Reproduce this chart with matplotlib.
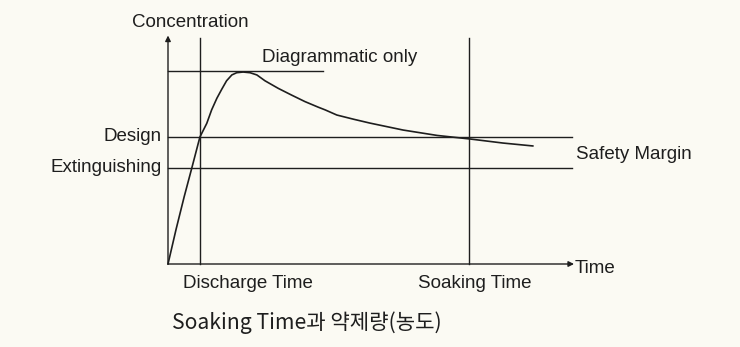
import matplotlib.pyplot as plt

plt.rcParams['font.family'] = ['Liberation Sans', 'DejaVu Sans']

# Diagram data (time and concentration in arbitrary units, 0-100)
curve_time = [0, 2.0, 4.0, 5.9, 7.9, 9.6, 10.8, 12.1, 13.3, 14.5, 15.8, 17.0, 18.6,
              20.3, 22.0, 24.0, 27.3, 30.6, 33.9, 37.2, 38.9, 41.8, 46.0, 50.0,
              58.2, 66.6, 74.8, 82.9, 90.3]
curve_conc = [0, 15.5, 30.0, 42.9, 56.7, 62.8, 68.8, 74.0, 78.0, 81.8, 84.4, 85.4, 85.7,
              85.4, 84.4, 81.8, 78.4, 75.4, 72.5, 70.0, 68.8, 66.5, 64.6, 62.9,
              59.8, 57.4, 55.8, 54.0, 52.7]

design_conc = 56.7
extinguishing_conc = 42.9
peak_conc = 86.0
peak_line_end = 38.4
discharge_time = 7.9
soaking_time = 74.5
marker_top = 100.9

line_color = '#1e1e1e'
bg_color = '#fbfaf3'

fig = plt.figure(figsize=(7.4, 3.47), dpi=100, facecolor=bg_color)
ax = fig.add_axes([168 / 740, 83 / 347, 404 / 740, 224 / 347])
ax.set_xlim(0, 100)
ax.set_ylim(0, 100)
ax.axis('off')

# axes with arrows
ax.annotate('', xy=(0, 102), xytext=(0, 0), annotation_clip=False,
            arrowprops=dict(arrowstyle='-|>', color=line_color, lw=1.0,
                            mutation_scale=8, shrinkA=0, shrinkB=0))
ax.annotate('', xy=(100.5, 0), xytext=(0, 0), annotation_clip=False,
            arrowprops=dict(arrowstyle='-|>', color=line_color, lw=1.0,
                            mutation_scale=8, shrinkA=0, shrinkB=0))

# reference lines
ax.plot([0, 100], [design_conc, design_conc], color=line_color, lw=1.0, clip_on=False)
ax.plot([0, 100], [extinguishing_conc, extinguishing_conc], color=line_color, lw=1.0, clip_on=False)
ax.plot([0, peak_line_end], [peak_conc, peak_conc], color=line_color, lw=1.0, clip_on=False)
ax.plot([discharge_time, discharge_time], [0, marker_top], color=line_color, lw=1.0, clip_on=False)
ax.plot([soaking_time, soaking_time], [0, marker_top], color=line_color, lw=1.0, clip_on=False)

# concentration curve
ax.plot(curve_time, curve_conc, color=line_color, lw=1.2, clip_on=False,
        solid_joinstyle='round')

# labels
fs = 13.5
ax.text(5.4, 108, 'Concentration', ha='center', va='center', fontsize=fs, color=line_color)
ax.text(23.3, 92, 'Diagrammatic only', ha='left', va='center', fontsize=fs, color=line_color)
ax.text(-1.5, design_conc, 'Design', ha='right', va='center', fontsize=fs, color=line_color)
ax.text(-1.5, extinguishing_conc, 'Extinguishing', ha='right', va='center', fontsize=fs, color=line_color)
ax.text(101, 48.7, 'Safety Margin', ha='left', va='center', fontsize=fs, color=line_color)
ax.text(100.7, -1.8, 'Time', ha='left', va='center', fontsize=fs, color=line_color)
ax.text(3.7, -8.5, 'Discharge Time', ha='left', va='center', fontsize=fs, color=line_color)
ax.text(61.9, -8.5, 'Soaking Time', ha='left', va='center', fontsize=fs, color=line_color)

fig.text(172 / 740, 1 - 323 / 347, 'Soaking Time과 약제량(농도)', ha='left', va='center',
         fontsize=15.2, color=line_color, family=['Noto Sans CJK KR', 'DejaVu Sans'])

fig.savefig('out.png', dpi=100, facecolor=bg_color)
